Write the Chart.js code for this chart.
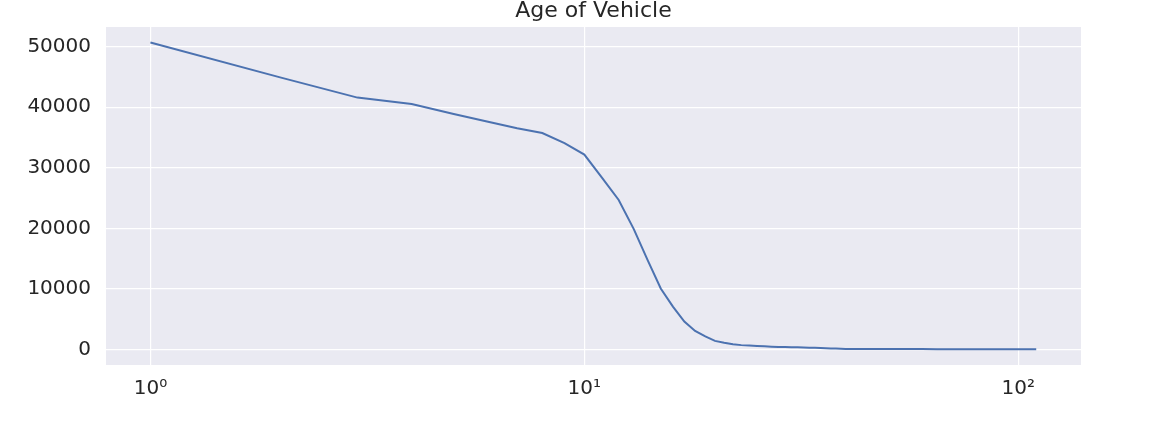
<!DOCTYPE html>
<html>
<head>
<meta charset="utf-8">
<style>
  html, body { margin: 0; padding: 0; background: #ffffff; }
  canvas { display: block; }
</style>
<script src="https://cdn.jsdelivr.net/npm/chart.js@4/dist/chart.umd.min.js"></script>
</head>
<body>
<canvas id="chart" width="1152" height="438"></canvas>
<script>
// vehicle age (years) and count
const ages = [
  1, 2, 3, 4, 5, 6, 7, 8, 9, 10,
  11, 12, 13, 14, 15, 16, 17, 18, 19, 20,
  21, 22, 23, 24, 25, 26, 27, 28, 29, 30,
  31, 32, 33, 34, 35, 36, 37, 38, 39, 40,
  42, 45, 50, 55, 60, 65, 70, 75, 80, 85, 90, 95, 100, 105, 110
];
const counts = [
  50700, 44900, 41600, 40550, 38900, 37600, 36550, 35750, 34100, 32200,
  28300, 24700, 19900, 14750, 10100, 7100, 4650, 3100, 2180, 1450,
  1150, 900, 750, 670, 610, 550, 500, 460, 430, 400,
  380, 350, 320, 300, 270, 240, 210, 180, 150, 130,
  120, 110, 100, 95, 90, 85, 80, 80, 75, 75, 70, 70, 70, 65, 65
];
const xTicks = [1, 10, 100];
const xTickLabels = ['10\u2070', '10\u00b9', '10\u00b2'];
const yTicks = [0, 10000, 20000, 30000, 40000, 50000];
const chartTitle = 'Age of Vehicle';

// grey panel behind the plot, title centred over the panel
const plotBackground = {
  id: 'plotBackground',
  beforeDraw(chart) {
    const { ctx, chartArea } = chart;
    ctx.save();
    ctx.fillStyle = '#eaeaf2';
    ctx.fillRect(chartArea.left, chartArea.top, chartArea.right - chartArea.left, chartArea.bottom - chartArea.top);
    ctx.fillStyle = '#262626';
    ctx.font = '22px "DejaVu Sans"';
    ctx.textAlign = 'center';
    ctx.textBaseline = 'middle';
    ctx.fillText(chartTitle, (chartArea.left + chartArea.right) / 2, 11);
    ctx.restore();
  }
};

const ctx = document.getElementById('chart').getContext('2d');
new Chart(ctx, {
  type: 'line',
  data: {
    datasets: [{
      label: chartTitle,
      data: ages.map((a, i) => ({ x: a, y: counts[i] })),
      borderColor: '#4c72b0',
      borderWidth: 2,
      pointRadius: 0,
      fill: false,
      tension: 0
    }]
  },
  options: {
    responsive: false,
    devicePixelRatio: 1,
    animation: false,
    layout: { padding: { left: 0, right: 71, top: 25, bottom: 25 } },
    plugins: {
      legend: { display: false },
      tooltip: { enabled: false },
      title: { display: false }
    },
    scales: {
      x: {
        type: 'logarithmic',
        min: 0.79,
        max: 139.5,
        afterBuildTicks: (scale) => { scale.ticks = xTicks.map(v => ({ value: v })); },
        ticks: {
          color: '#262626',
          font: { family: 'DejaVu Sans', size: 20 },
          padding: 12,
          autoSkip: false,
          maxRotation: 0,
          callback: (value) => xTickLabels[xTicks.indexOf(value)]
        },
        grid: { color: '#ffffff', lineWidth: 1.2, drawTicks: false },
        border: { display: false }
      },
      y: {
        type: 'linear',
        min: -2530,
        max: 53250,
        afterBuildTicks: (scale) => { scale.ticks = yTicks.map(v => ({ value: v })); },
        afterFit: (scale) => { scale.width = 106; },
        ticks: {
          color: '#262626',
          font: { family: 'DejaVu Sans', size: 20 },
          padding: 15,
          callback: (value) => String(value)
        },
        grid: { color: '#ffffff', lineWidth: 1.2, drawTicks: false },
        border: { display: false }
      }
    }
  },
  plugins: [plotBackground]
});
</script>
</body>
</html>
